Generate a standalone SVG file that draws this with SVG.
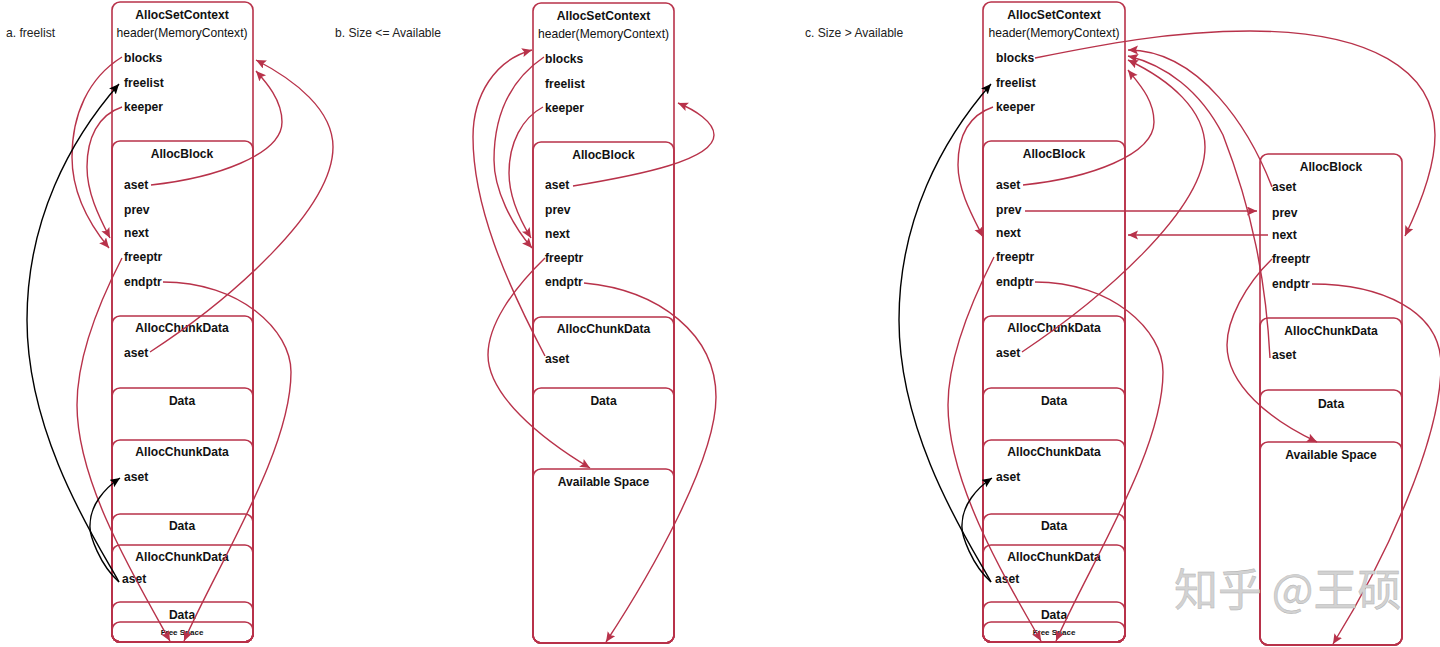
<svg xmlns="http://www.w3.org/2000/svg" width="1440" height="647" viewBox="0 0 1440 647">
<defs>
<style>
text{font-family:"Liberation Sans",Arial,sans-serif;font-size:12.1px;fill:#111}
.b{font-weight:bold}
.m{text-anchor:middle}
.n{fill:#222}
.box rect{fill:none;stroke:#b8324a;stroke-width:1.6}
.r{fill:none;stroke:#b8324a;stroke-width:1.4;marker-end:url(#ar)}
.k{fill:none;stroke:#000;stroke-width:1.4;marker-end:url(#ak)}
.wm{font-family:"Noto Sans CJK SC",sans-serif;font-size:44px;fill:#d2d2d2;stroke:#b0b0b0;stroke-width:.4}
</style>
<marker id="ar" markerUnits="userSpaceOnUse" markerWidth="12" markerHeight="10" refX="10" refY="4.5" orient="auto"><path d="M0 0L10 4.5L0 9L2 4.5Z" fill="#b8324a"/></marker>
<marker id="ak" markerUnits="userSpaceOnUse" markerWidth="12" markerHeight="10" refX="10" refY="4.5" orient="auto"><path d="M0 0L10 4.5L0 9L2 4.5Z" fill="#000"/></marker>
</defs>
<rect width="1440" height="647" fill="#fff"/>
<text x="6" y="37" class="n">a. freelist</text>
<text x="335" y="37" class="n">b. Size &lt;= Available</text>
<text x="805" y="37" class="n">c. Size &gt; Available</text>

<g id="col-a" class="box">
<rect x="112" y="2" width="141" height="640" rx="8"/>
<rect x="112" y="141" width="141" height="501" rx="8"/>
<rect x="112" y="316" width="141" height="326" rx="8"/>
<rect x="112" y="388" width="141" height="254" rx="8"/>
<rect x="112" y="440" width="141" height="202" rx="8"/>
<rect x="112" y="514" width="141" height="128" rx="8"/>
<rect x="112" y="545" width="141" height="97" rx="8"/>
<rect x="112" y="602" width="141" height="40" rx="8"/>
<rect x="112" y="622" width="141" height="20" rx="8"/>
<text x="182" y="19" class="b m">AllocSetContext</text>
<text x="182" y="37" class="m">header(MemoryContext)</text>
<text x="124" y="62" class="b">blocks</text>
<text x="124" y="87" class="b">freelist</text>
<text x="124" y="111" class="b">keeper</text>
<text x="182" y="158" class="b m">AllocBlock</text>
<text x="124" y="189" class="b">aset</text>
<text x="124" y="214" class="b">prev</text>
<text x="124" y="237" class="b">next</text>
<text x="124" y="261" class="b">freeptr</text>
<text x="124" y="286" class="b">endptr</text>
<text x="182" y="332" class="b m">AllocChunkData</text>
<text x="124" y="357" class="b">aset</text>
<text x="182" y="404.500" class="b m">Data</text>
<text x="182" y="456" class="b m">AllocChunkData</text>
<text x="124" y="481" class="b">aset</text>
<text x="182" y="530" class="b m">Data</text>
<text x="182" y="561" class="b m">AllocChunkData</text>
<text x="122" y="583" class="b">aset</text>
<text x="182" y="619" class="b m">Data</text>
<text x="182" y="635" class="b m" style="font-size:8px">Free Space</text>
</g>

<g id="col-b" class="box">
<rect x="533" y="3" width="141" height="640" rx="8"/>
<rect x="533" y="142" width="141" height="501" rx="8"/>
<rect x="533" y="317" width="141" height="326" rx="8"/>
<rect x="533" y="388" width="141" height="255" rx="8"/>
<rect x="533" y="469" width="141" height="174" rx="8"/>
<text x="603.500" y="20" class="b m">AllocSetContext</text>
<text x="603.500" y="38" class="m">header(MemoryContext)</text>
<text x="545" y="63" class="b">blocks</text>
<text x="545" y="88" class="b">freelist</text>
<text x="545" y="111.500" class="b">keeper</text>
<text x="603.500" y="159" class="b m">AllocBlock</text>
<text x="545" y="189" class="b">aset</text>
<text x="545" y="214" class="b">prev</text>
<text x="545" y="238" class="b">next</text>
<text x="545" y="262" class="b">freeptr</text>
<text x="545" y="286" class="b">endptr</text>
<text x="603.500" y="333" class="b m">AllocChunkData</text>
<text x="545" y="363" class="b">aset</text>
<text x="603.500" y="404.500" class="b m">Data</text>
<text x="603.500" y="486" class="b m">Available Space</text>
</g>

<g id="col-c1" class="box">
<rect x="983" y="2" width="142" height="640" rx="8"/>
<rect x="983" y="141" width="142" height="501" rx="8"/>
<rect x="983" y="316" width="142" height="326" rx="8"/>
<rect x="983" y="388" width="142" height="254" rx="8"/>
<rect x="983" y="440" width="142" height="202" rx="8"/>
<rect x="983" y="514" width="142" height="128" rx="8"/>
<rect x="983" y="545" width="142" height="97" rx="8"/>
<rect x="983" y="602" width="142" height="40" rx="8"/>
<rect x="983" y="622" width="142" height="20" rx="8"/>
<text x="1054" y="19" class="b m">AllocSetContext</text>
<text x="1054" y="37" class="m">header(MemoryContext)</text>
<text x="996" y="62" class="b">blocks</text>
<text x="996" y="87" class="b">freelist</text>
<text x="996" y="111" class="b">keeper</text>
<text x="1054" y="158" class="b m">AllocBlock</text>
<text x="996" y="189" class="b">aset</text>
<text x="996" y="214" class="b">prev</text>
<text x="996" y="237" class="b">next</text>
<text x="996" y="261" class="b">freeptr</text>
<text x="996" y="286" class="b">endptr</text>
<text x="1054" y="332" class="b m">AllocChunkData</text>
<text x="996" y="357" class="b">aset</text>
<text x="1054" y="404.500" class="b m">Data</text>
<text x="1054" y="456" class="b m">AllocChunkData</text>
<text x="996" y="481" class="b">aset</text>
<text x="1054" y="530" class="b m">Data</text>
<text x="1054" y="561" class="b m">AllocChunkData</text>
<text x="995" y="583" class="b">aset</text>
<text x="1054" y="619" class="b m">Data</text>
<text x="1054" y="635" class="b m" style="font-size:8px">Free Space</text>
</g>

<g id="col-c2" class="box">
<rect x="1260" y="154" width="142" height="491" rx="8"/>
<rect x="1260" y="318" width="142" height="327" rx="8"/>
<rect x="1260" y="390" width="142" height="255" rx="8"/>
<rect x="1260" y="442" width="142" height="203" rx="8"/>
<text x="1331" y="171" class="b m">AllocBlock</text>
<text x="1272" y="191" class="b">aset</text>
<text x="1272" y="216.500" class="b">prev</text>
<text x="1272" y="239" class="b">next</text>
<text x="1272" y="263" class="b">freeptr</text>
<text x="1272" y="288" class="b">endptr</text>
<text x="1331" y="335" class="b m">AllocChunkData</text>
<text x="1272" y="359" class="b">aset</text>
<text x="1331" y="407.500" class="b m">Data</text>
<text x="1331" y="459" class="b m">Available Space</text>
</g>

<g id="connectors">
<path class="r" d="M122 57C88 78 72 115 72 157C72 195 90 225 109 248"/>
<path class="r" d="M122 107C98 115 87 138 87 167C87 192 98 215 110 238"/>
<path class="r" d="M151 185C215 178 282 155 282 122C282 100 266 82 256 71"/>
<path class="r" d="M150 352C230 300 333 210 333 147C333 110 295 80 256 60"/>
<path class="r" d="M122 258C90 320 77 370 77 405C77 480 130 570 170 641"/>
<path class="r" d="M163 282C240 282 291 330 291 372C291 450 220 560 184 641"/>
<path class="k" d="M119 582C102 550 27 440 27 320C27 220 70 140 119 84"/>
<path class="k" d="M119 582C100 565 89 535 90 525C90 505 105 488 120 478"/>

<path class="r" d="M545 356C505 280 473 205 473 137C473 95 495 60 532 50"/>
<path class="r" d="M544 57C510 80 494 115 494 160C494 190 512 225 532 248"/>
<path class="r" d="M543 107C522 118 509 143 509 173C509 195 520 220 531 238"/>
<path class="r" d="M573 186C640 175 714 160 714 135C714 122 695 110 678 103"/>
<path class="r" d="M545 258C512 290 488 325 488 355C488 395 540 438 590 468"/>
<path class="r" d="M584 283C660 290 716 335 716 397C716 460 650 575 606 642"/>

<path class="r" d="M1035 58C1100 45 1170 31 1250 31C1370 31 1435 70 1435 135C1435 165 1420 205 1405 236"/>
<path class="r" d="M1023 185C1090 178 1154 155 1154 122C1154 100 1140 85 1128 70"/>
<path class="r" d="M1022 352C1100 300 1205 210 1205 147C1205 110 1170 80 1128 60"/>
<path class="r" d="M1272 187C1250 130 1200 50 1128 50"/>
<path class="r" d="M1270 358C1266 280 1252 210 1223 135C1200 90 1165 65 1128 56"/>
<path class="r" d="M1025 211H1257"/>
<path class="r" d="M1268 235H1128"/>
<path class="r" d="M993 107C970 115 958 135 958 165C958 190 972 215 983 237"/>
<path class="r" d="M994 257C962 320 948 370 948 405C948 480 1000 570 1041 641"/>
<path class="r" d="M1035 282C1112 282 1163 330 1163 372C1163 450 1092 560 1056 641"/>
<path class="k" d="M991 582C974 550 899 440 899 320C899 220 942 140 991 84"/>
<path class="k" d="M991 582C972 565 961 535 962 525C962 505 977 488 992 478"/>
<path class="r" d="M1272 259C1245 285 1227 320 1227 345C1227 385 1270 420 1317 442"/>
<path class="r" d="M1312 284C1380 284 1441 310 1441 365C1441 440 1385 560 1333 644"/>
</g>
<text x="1174" y="606" class="wm">知乎 @王硕</text>
</svg>
